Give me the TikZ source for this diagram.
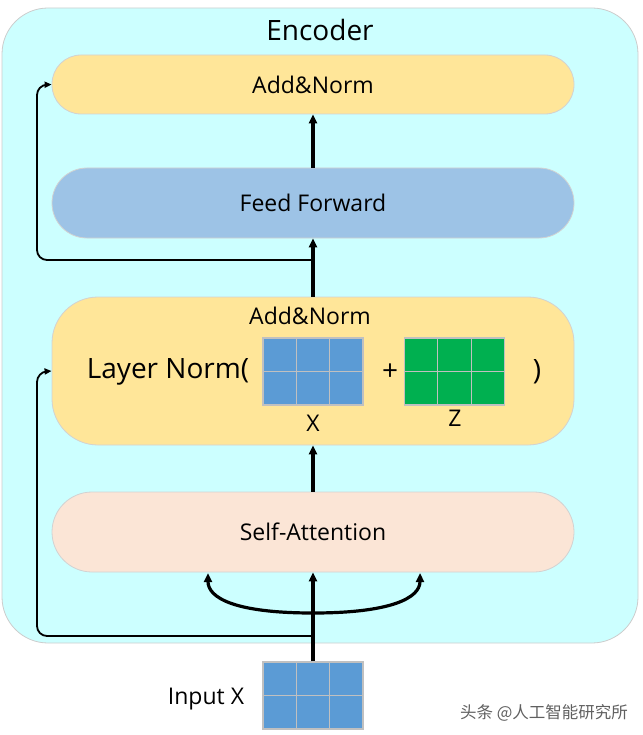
\documentclass[tikz,border=0pt]{standalone}
\usepackage{fontspec}
\setmainfont{Open Sans}
\newfontfamily\cjkfont{Noto Sans CJK SC}
\usetikzlibrary{arrows.meta,calc}
\definecolor{enc}{HTML}{CCFFFF}
\definecolor{yel}{HTML}{FFE699}
\definecolor{ffblue}{HTML}{9DC3E6}
\definecolor{peach}{HTML}{FBE5D6}
\definecolor{mblue}{HTML}{5B9BD5}
\definecolor{mgreen}{HTML}{00B050}
\definecolor{gridgray}{HTML}{C0C0C0}
\tikzset{
  box/.style={draw=gray!35, line width=0.8pt, minimum width=522, inner sep=0},
  mat/.style={draw=gridgray, line width=1.2pt, minimum width=100, minimum height=67, inner sep=0},
  gl/.style={draw=gridgray, line width=1.2pt},
  thick arr/.style={line width=3.2pt, -{Triangle[length=9pt,width=8pt]}},
  thin arr/.style={line width=1.8pt, rounded corners=10pt, -{Triangle[length=7pt,width=6pt]}},
  lbl/.style={font=\fontsize{23}{26}\selectfont, inner sep=0},
  big/.style={font=\fontsize{28}{32}\selectfont, inner sep=0},
}
\begin{document}
\begin{tikzpicture}[x=1pt,y=-1pt]
\useasboundingbox (0,0) rectangle (642,735);
% encoder background
\draw[fill=enc, draw=gray!40, line width=0.8pt, rounded corners=46pt] (2,8) rectangle (638,643);
\node[big] (enc) at (320,30) {Encoder};
% boxes
\node[box, fill=yel, minimum height=59, rounded corners=29pt, lbl] (an2) at (313,84.5) {Add\&Norm};
\node[box, fill=ffblue, minimum height=70, rounded corners=35pt, lbl] (ff) at (313,203) {Feed Forward};
\node[box, fill=yel, minimum height=148, rounded corners=46pt] (an1) at (313,371) {};
\node[box, fill=peach, minimum height=80, rounded corners=40pt, lbl] (sa) at (313,532) {Self-Attention};
% inside Add&Norm 1
\node[lbl] (antxt) at (310,316) {Add\&Norm};
\node[big] (ln) at (168,372) {Layer Norm(};
\node[mat, fill=mblue] (mx) at (313,371.5) {};
\node[mat, fill=mgreen] (mz) at (454.5,371.5) {};
\node[big] (plus) at (390,372) {+};
\node[big] (rp) at (537,372) {)};
\node[lbl] (xl) at (313,423) {X};
\node[lbl] (zl) at (455,418) {Z};
% input
\node[mat, fill=mblue] (in) at (313,695.5) {};
\node[lbl] (inl) at (206,699) {Input X};
\foreach \m in {mx,mz,in}{
  \foreach \f in {1,2}
    \draw[gl] ($(\m.north west)!\f/3!(\m.north east)$) -- ($(\m.south west)!\f/3!(\m.south east)$);
  \draw[gl] (\m.west) -- (\m.east);
}
% watermark
\node[font=\cjkfont\fontsize{16.5}{18}\selectfont, text=gray!75!black, inner sep=0] (wm) at (544,713) {头条 @人工智能研究所};
% connectors
\draw[thick arr] (in.north) -- (sa.south);
\coordinate (cb) at (313,613);
\coordinate (cl) at (208,573);
\coordinate (cr) at (420,573);
\draw[thick arr] (cb) .. controls (235,613) and (208,598) .. (cl);
\draw[thick arr] (cb) .. controls (391,613) and (420,598) .. (cr);
\draw[thick arr] (sa.north) -- (an1.south);
\draw[thick arr] (an1.north) -- (ff.south);
\draw[thick arr] (ff.north) -- (an2.south);
\coordinate (r1) at (313,636);
\coordinate (r2) at (313,260);
\draw[thin arr] (r1) -| (37,372) -- (an1.west);
\draw[thin arr] (r2) -| (37,85) -- (an2.west);
\end{tikzpicture}
\end{document}
